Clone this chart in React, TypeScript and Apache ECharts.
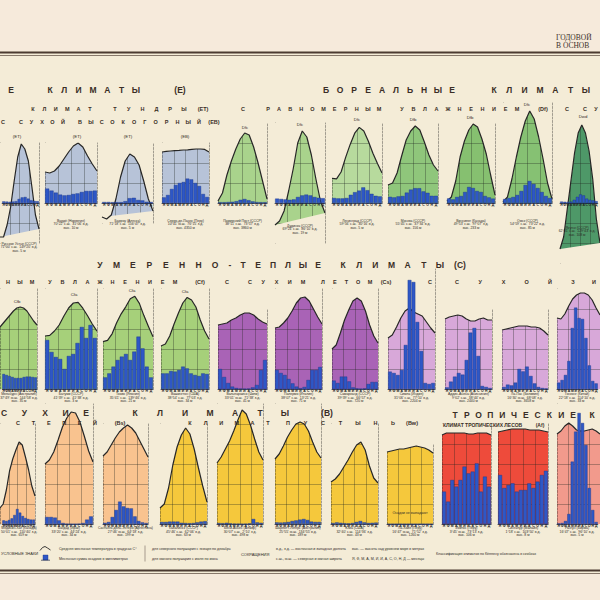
import React, { useEffect, useRef } from "react";
import * as echarts from "echarts";

const MONTHS = ["Я", "Ф", "М", "А", "М", "И", "И", "А", "С", "О", "Н", "Д"];

// ---------- Row 1: polar and boreal climates (°C, mm)
const T_RUSSKOYE = [-37, -37, -31, -22, -9, 3, 9.5, 7, 1, -12, -26, -33];
const P_RUSSKOYE = [8, 7, 6, 7, 9, 20, 28, 30, 22, 14, 10, 9];
const T_VARDO = [-4.5, -5, -4, -1.5, 2, 5.5, 8.5, 10, 8, 3.5, -0.5, -4];
const P_VARDO = [72, 62, 52, 42, 38, 40, 45, 48, 55, 60, 60, 62];
const T_BARROW = [-27, -28, -26, -18, -7, 1, 4.5, 3, -1, -9, -18, -24];
const P_BARROW = [5, 5, 4, 4, 4, 9, 24, 26, 15, 13, 6, 5];
const T_CERRO = [5.5, 5.8, 6, 6.2, 6.3, 6.5, 6.6, 6.8, 7, 7, 6.8, 5.5];
const P_CERRO = [28, 40, 70, 90, 100, 105, 122, 118, 100, 85, 45, 30];
const T_PAMIR = [-19, -15, -6, 1, 7, 12, 15, 14, 8, 0, -9, -18];
const P_PAMIR = [4, 4, 5, 6, 9, 16, 20, 14, 8, 5, 4, 4];
const T_DUDINKA = [-31, -29, -24, -14, -3, 10, 16, 13, 4, -8, -19, -25];
const P_DUDINKA = [22, 20, 18, 16, 18, 30, 38, 42, 38, 30, 26, 24];
const T_LENINGRAD = [-7.7, -7.9, -4.5, 2.8, 9.3, 14.9, 17.8, 16, 10.9, 4.9, -0.3, -5];
const P_LENINGRAD = [25, 23, 23, 25, 41, 54, 62, 78, 64, 46, 36, 33];
const T_MOSCOW = [-11, -10, -5, 3.5, 11.5, 16, 18.5, 16.5, 10.5, 4, -1, -4];
const P_MOSCOW = [31, 28, 33, 35, 52, 67, 74, 74, 58, 51, 36, 36];
const T_WINNIPEG = [-19, -17, -9, 3, 11, 16.5, 19.5, 18, 12, 4.5, -6, -16];
const P_WINNIPEG = [23, 18, 30, 35, 55, 80, 75, 60, 55, 35, 28, 22];
const T_OMSK = [-19.5, -17, -8, 3, 13, 21, 26, 22, 13, 2, -10, -18];
const P_OMSK = [20, 25, 30, 40, 60, 90, 110, 95, 75, 55, 35, 25];
const T_YAKUTSK = [-43, -37, -23, -9, 5, 15, 19, 15, 6, -8, -28, -40];
const P_YAKUTSK = [7, 6, 5, 7, 16, 31, 43, 38, 22, 16, 13, 9];

// ---------- Row 2: temperate warm climates
const T_MELBOURNE = [11, 13, 15, 17, 19, 20.5, 21, 20.5, 19, 16.5, 14, 12];
const P_MELBOURNE = [75, 70, 65, 60, 55, 55, 55, 60, 62, 62, 60, 58];
const T_BATUMI = [6.5, 6.8, 9, 12, 16.5, 20.5, 23, 23.3, 20.4, 16.6, 12.5, 8.9];
const P_BATUMI = [245, 185, 160, 150, 100, 165, 175, 230, 310, 255, 320, 255];
const T_TOKYO = [3.7, 4.3, 7.6, 13.1, 17.6, 21.1, 25.1, 26.4, 22.8, 16.7, 11.3, 6.1];
const P_TOKYO = [58, 78, 112, 145, 162, 175, 145, 187, 262, 203, 112, 58];
const T_WASHINGTON = [1.5, 2.5, 6.5, 12.5, 18, 23, 25.8, 24.5, 21, 14.5, 9, 5];
const P_WASHINGTON = [78, 78, 90, 87, 95, 112, 103, 78, 70, 65, 78, 75];
const T_VALPARAISO = [12, 12.5, 13, 14.5, 15.5, 17, 18, 18, 17, 15, 13.5, 12.5];
const P_VALPARAISO = [100, 60, 30, 12, 5, 2, 1, 2, 8, 20, 95, 145];
const T_PALERMO = [10.5, 11, 13, 15.5, 19, 23, 25.5, 26, 24, 20, 16, 12.5];
const P_PALERMO = [95, 80, 70, 50, 28, 12, 4, 10, 45, 95, 95, 110];
const T_SAMARKAND = [0, 2, 8, 14.5, 19.5, 24, 25.5, 24, 19, 12, 6.5, 3];
const P_SAMARKAND = [42, 30, 62, 62, 38, 8, 3, 1, 3, 25, 35, 35];
const T_SIMLA = [5.5, 7, 11, 15.5, 19, 20.5, 18.5, 17.5, 16.5, 13.5, 10.5, 8];
const P_SIMLA = [87, 80, 70, 95, 220, 545, 535, 335, 190, 30, 25, 30];
const T_ADDIS = [15, 16, 16.5, 17, 16.5, 15, 14, 14, 15, 15.5, 14.5, 14.5];
const P_ADDIS = [8, 37, 62, 80, 72, 145, 282, 305, 165, 15, 10, 5];
const T_LAPAZ = [9.5, 10, 10.5, 11, 11.5, 11.5, 11.5, 11, 11, 10.5, 9, 7];
const P_LAPAZ = [10, 22, 18, 32, 100, 88, 112, 65, 28, 10, 5, 3];
const T_HONGKONG = [15.5, 15, 17.5, 21.5, 25, 27, 28, 28, 27, 24.5, 20.5, 17];
const P_HONGKONG = [32, 45, 70, 140, 305, 407, 355, 350, 255, 118, 40, 28];

// ---------- Row 3: dry and tropical climates
const T_MEDICINEHAT = [-12, -10, -3, 6.5, 12.5, 17, 21, 19.5, 13.5, 7, -1, -6];
const P_MEDICINEHAT = [18, 15, 20, 28, 45, 75, 57, 40, 30, 25, 22, 22];
const T_BAGHDAD = [10, 12, 16, 22, 28.5, 33, 36, 35.5, 31, 24, 16.5, 11];
const P_BAGHDAD = [35, 35, 32, 18, 5, 1, 0, 0, 1, 5, 22, 38];
const T_SANTIAGO = [14, 16, 19.5, 23, 26, 28, 29.5, 28, 25.5, 21.5, 17.5, 13.5];
const P_SANTIAGO = [6, 10, 35, 70, 112, 88, 80, 78, 38, 15, 8, 5];
const T_KAZALINSK = [-12, -10, -2, 9.5, 18.5, 24.5, 28, 25, 17.5, 8, -1, -9];
const P_KAZALINSK = [10, 10, 12, 12, 12, 6, 5, 4, 5, 8, 12, 14];
const T_BENIABBES = [10.5, 13.5, 17.5, 21.5, 26.5, 32, 37, 35, 29.5, 22.5, 16, 12];
const P_BENIABBES = [5, 4, 6, 3, 2, 1, 0, 1, 3, 25, 8, 6];
const T_CHARLOTTE = [12.5, 15, 19, 23.5, 27, 30, 31, 30, 26.5, 21, 16, 13];
const P_CHARLOTTE = [8, 7, 8, 10, 15, 18, 22, 25, 20, 12, 10, 10];
const T_YUMA = [1, 2.5, 5, 8.5, 12, 16, 19.5, 21, 17, 9, 3, 0.5];
const P_YUMA = [5, 8, 6, 4, 3, 5, 10, 15, 8, 5, 6, 7];
const T_LAJOYA = [16, 16.5, 17, 17.5, 17.5, 18, 18.5, 19, 18.5, 18, 17, 15.5];
const P_LAJOYA = [0, 0, 0, 0, 0, 0, 0, 0, 0, 0, 0, 0];
const T_IQUITOS = [24.5, 25.5, 25.5, 25.5, 25.5, 25.5, 25, 25, 25.5, 25.5, 25.5, 24.5];
const P_IQUITOS = [162, 112, 220, 187, 220, 287, 253, 262, 303, 162, 237, 187];
const T_SINGAPORE = [26, 26.5, 27, 27.5, 27.5, 27.5, 27.5, 27, 27, 27, 26.5, 26];
const P_SINGAPORE = [245, 180, 195, 203, 162, 170, 170, 203, 180, 212, 245, 266];
const T_RANGOON = [25, 26.5, 29, 30.5, 29, 27, 26.5, 26.5, 27, 27.5, 26.5, 25];
const P_RANGOON = [3, 5, 15, 50, 312, 462, 555, 505, 395, 180, 70, 10];

const STATIONS = [
  { name: "Русское Устье (СССР)", pos: "71°00' с.ш.  149°20' в.д.", alt: "выс. 5 м", t: T_RUSSKOYE, p: P_RUSSKOYE },
  { name: "Вардё (Норвегия)", pos: "70°22' с.ш.  31°06' в.д.", alt: "выс. 10 м", t: T_VARDO, p: P_VARDO },
  { name: "Барроу (Аляска)", pos: "71°18' с.ш.  156°47' з.д.", alt: "выс. 5 м", t: T_BARROW, p: P_BARROW },
  { name: "Серро-де-Паско (Перу)", pos: "10°41' ю.ш.  76°15' з.д.", alt: "выс. 4350 м", t: T_CERRO, p: P_CERRO },
  { name: "Памирский Пост (СССР)", pos: "38°11' с.ш.  73°57' в.д.", alt: "выс. 3860 м", t: T_PAMIR, p: P_PAMIR },
  { name: "Дудинка (СССР)", pos: "69°24' с.ш.  86°10' в.д.", alt: "выс. 19 м", t: T_DUDINKA, p: P_DUDINKA },
  { name: "Ленинград (СССР)", pos: "59°56' с.ш.  30°16' в.д.", alt: "выс. 5 м", t: T_LENINGRAD, p: P_LENINGRAD },
  { name: "Москва (СССР)", pos: "55°45' с.ш.  37°34' в.д.", alt: "выс. 156 м", t: T_MOSCOW, p: P_MOSCOW },
  { name: "Виннипег (Канада)", pos: "49°53' с.ш.  97°07' з.д.", alt: "выс. 233 м", t: T_WINNIPEG, p: P_WINNIPEG },
  { name: "Омск (СССР)", pos: "54°59' с.ш.  73°22' в.д.", alt: "выс. 85 м", t: T_OMSK, p: P_OMSK },
  { name: "Якутск (СССР)", pos: "62°01' с.ш.  129°43' в.д.", alt: "выс. 108 м", t: T_YAKUTSK, p: P_YAKUTSK },

  { name: "Мельбурн (Австралия)", pos: "37°49' ю.ш.  144°58' в.д.", alt: "выс. 35 м", t: T_MELBOURNE, p: P_MELBOURNE },
  { name: "Батуми (СССР)", pos: "41°39' с.ш.  41°38' в.д.", alt: "выс. 3 м", t: T_BATUMI, p: P_BATUMI },
  { name: "Токио (Япония)", pos: "35°41' с.ш.  139°46' в.д.", alt: "выс. 21 м", t: T_TOKYO, p: P_TOKYO },
  { name: "Вашингтон (США)", pos: "38°54' с.ш.  77°03' з.д.", alt: "выс. 34 м", t: T_WASHINGTON, p: P_WASHINGTON },
  { name: "Вальпараисо (Чили)", pos: "33°01' ю.ш.  71°38' з.д.", alt: "выс. 41 м", t: T_VALPARAISO, p: P_VALPARAISO },
  { name: "Палермо (Италия)", pos: "38°07' с.ш.  13°21' в.д.", alt: "выс. 71 м", t: T_PALERMO, p: P_PALERMO },
  { name: "Самарканд (СССР)", pos: "39°39' с.ш.  66°57' в.д.", alt: "выс. 720 м", t: T_SAMARKAND, p: P_SAMARKAND },
  { name: "Симла (Индия)", pos: "31°06' с.ш.  77°10' в.д.", alt: "выс. 2204 м", t: T_SIMLA, p: P_SIMLA },
  { name: "Аддис-Абеба (Абиссиния)", pos: "9°02' с.ш.  38°44' в.д.", alt: "выс. 2440 м", t: T_ADDIS, p: P_ADDIS },
  { name: "Ла-Пас (Боливия)", pos: "16°30' ю.ш.  68°08' з.д.", alt: "выс. 3658 м", t: T_LAPAZ, p: P_LAPAZ },
  { name: "Гонконг (Китай)", pos: "22°18' с.ш.  114°10' в.д.", alt: "выс. 33 м", t: T_HONGKONG, p: P_HONGKONG },

  { name: "Медисин-Хат (Канада)", pos: "50°01' с.ш.  110°40' з.д.", alt: "выс. 659 м", t: T_MEDICINEHAT, p: P_MEDICINEHAT },
  { name: "Багдад (Ирак)", pos: "33°20' с.ш.  44°24' в.д.", alt: "выс. 34 м", t: T_BAGHDAD, p: P_BAGHDAD },
  { name: "Сантьяго-дель-Эстеро (Аргентина)", pos: "27°46' ю.ш.  64°18' з.д.", alt: "выс. 199 м", t: T_SANTIAGO, p: P_SANTIAGO },
  { name: "Казалинск (СССР)", pos: "45°46' с.ш.  62°06' в.д.", alt: "выс. 63 м", t: T_KAZALINSK, p: P_KAZALINSK },
  { name: "Бени-Аббес (Алжир)", pos: "30°07' с.ш.  2°10' з.д.", alt: "выс. 498 м", t: T_BENIABBES, p: P_BENIABBES },
  { name: "Шарлотт-Уотерс (Австралия)", pos: "25°55' ю.ш.  134°55' в.д.", alt: "выс. 189 м", t: T_CHARLOTTE, p: P_CHARLOTTE },
  { name: "Юма (США)", pos: "32°40' с.ш.  114°36' з.д.", alt: "выс. 43 м", t: T_YUMA, p: P_YUMA },
  { name: "Ла-Хойя (Перу)", pos: "16°47' ю.ш.  71°52' з.д.", alt: "выс. 1260 м", t: T_LAJOYA, p: P_LAJOYA },
  { name: "Икитос (Перу)", pos: "3°45' ю.ш.  73°13' з.д.", alt: "выс. 106 м", t: T_IQUITOS, p: P_IQUITOS },
  { name: "Сингапур (Малайя)", pos: "1°18' с.ш.  103°50' в.д.", alt: "выс. 8 м", t: T_SINGAPORE, p: P_SINGAPORE },
  { name: "Рангун (Бирма)", pos: "16°47' с.ш.  96°10' в.д.", alt: "выс. 5 м", t: T_RANGOON, p: P_RANGOON },
];

// ---------- layout & styles (kept apart from the data)
const ROW_BASE = [203, 389, 524];
const LABEL_Y = [219, 392.5, 526.5];
const PX_PER_DEG = 2;
const MM_PER_DEG = 10;
const FRAMES: { row: number; x: number; w: number; lx?: number; ly?: number }[] = [
  { row: 0, x: -11, w: 50, lx: 19, ly: 242 },
  { row: 0, x: 45, w: 52 },
  { row: 0, x: 102, w: 51 },
  { row: 0, x: 162, w: 47 },
  { row: 0, x: 218, w: 49 },
  { row: 0, x: 275, w: 50, lx: 300, ly: 224 },
  { row: 0, x: 332, w: 50 },
  { row: 0, x: 388, w: 50 },
  { row: 0, x: 447, w: 48 },
  { row: 0, x: 503, w: 49 },
  { row: 0, x: 560, w: 48, lx: 577, ly: 226 },
  { row: 1, x: -10, w: 47, lx: 19 },
  { row: 1, x: 45, w: 52 },
  { row: 1, x: 103, w: 50 },
  { row: 1, x: 161, w: 48 },
  { row: 1, x: 218, w: 49 },
  { row: 1, x: 275, w: 47 },
  { row: 1, x: 332, w: 46 },
  { row: 1, x: 388, w: 47 },
  { row: 1, x: 445, w: 47 },
  { row: 1, x: 502, w: 46 },
  { row: 1, x: 557, w: 48, lx: 577 },
  { row: 2, x: -12, w: 47, lx: 19 },
  { row: 2, x: 45, w: 48 },
  { row: 2, x: 103, w: 45 },
  { row: 2, x: 160, w: 47 },
  { row: 2, x: 217, w: 46 },
  { row: 2, x: 275, w: 46 },
  { row: 2, x: 331, w: 47 },
  { row: 2, x: 387, w: 46 },
  { row: 2, x: 442, w: 49 },
  { row: 2, x: 498, w: 50 },
  { row: 2, x: 557, w: 48, lx: 577 },
];
const ET = "#b7c3d8";
const CF = "#a6d07a";
const CS = "#a963b6";
const CW = "#d8a8d9";
const BS = "#f9c38f";
const BW = "#f5c83c";
const FILLS = [
  ET, ET, ET, ET, "#a9d38c", "#a9d38c", "#b7da9d", "#8fc67b", "#86c070", "#86c173", "#4e9868",
  CF, CF, CF, CF, CS, CS, CS, CW, CW, CW, CW,
  BS, BS, BS, BW, BW, BW, BW, BW, "#ee4b3b", "#ee4b3b", "#f29a8c",
];
const CODE_LABELS: [string, number, number][] = [
  ["(ET)", 17, 136], ["(ET)", 77, 136], ["(ET)", 128, 136], ["(EB)", 185, 136],
  ["Dfc", 245, 127], ["Dfc", 300, 124], ["Dfc", 357, 119], ["Dfb", 413, 119],
  ["Dfb", 470, 117], ["Dfc", 527, 104], ["Dwd", 583, 116],
  ["Cfb", 17, 301], ["Cfa", 74, 294], ["Cfa", 132, 290], ["Cfa", 185, 291],
];
// [word, x of first letter, x of last letter, y, size]
const HEADERS: [string, number, number, number, number][] = [
  ["Е", 11, 11, 90, 8.5], ["КЛИМАТЫ", 50, 136, 90, 8.5], ["(E)", 180, 180, 90, 8.5],
  ["БОРЕАЛЬНЫЕ", 326, 452, 90, 8.5], ["КЛИМАТЫ", 494, 586, 90, 8.5],
  ["КЛИМАТ", 33, 90, 109, 5.5], ["ТУНДРЫ", 115, 184, 109, 5.5], ["(ET)", 203, 203, 109, 5.5],
  ["С", 3, 3, 122, 5.5], ["СУХОЙ", 21, 63, 122, 5.5], ["ВЫСОКОГОРНЫЙ", 80, 199, 122, 5.5], ["(EB)", 214, 214, 122, 5.5],
  ["С", 243, 243, 109, 5.5], ["РАВНОМЕРНЫМ", 268, 379, 109, 5.5], ["УВЛАЖНЕНИЕМ", 402, 517, 109, 5.5], ["(Df)", 543, 543, 109, 5.5],
  ["С", 567, 567, 109, 5.5], ["СУ", 585, 596, 109, 5.5],
  ["УМЕРЕННО", 100, 215, 265, 8.5], ["-", 230, 230, 265, 8.5], ["ТЕПЛЫЕ", 243, 318, 265, 8.5],
  ["КЛИМАТЫ", 343, 440, 265, 8.5], ["(C)", 460, 460, 265, 8.5],
  ["НЫМ", 8, 32, 282, 5.5], ["УВЛАЖНЕНИЕМ", 50, 175, 282, 5.5], ["(Cf)", 200, 200, 282, 5.5],
  ["С", 227, 227, 282, 5.5], ["СУХИМ", 250, 303, 282, 5.5], ["ЛЕТОМ", 323, 370, 282, 5.5], ["(Cs)", 386, 386, 282, 5.5],
  ["С", 430, 430, 282, 5.5], ["СУХОЙ", 457, 550, 282, 5.5], ["ЗИ", 573, 594, 282, 5.5],
  ["СУХИЕ", 4, 86, 413, 8.5], ["КЛИМАТЫ", 135, 285, 413, 8.5], ["(B)", 327, 327, 413, 8.5],
  ["ТРОПИЧЕСКИЕ", 455, 573, 415, 8.5], ["К", 592, 592, 415, 8.5],
  ["СТЕПЕЙ", 18, 95, 423, 5.5], ["(Bs)", 120, 120, 423, 5.5],
  ["КЛИМАТ", 190, 268, 423, 5.5], ["ПУСТЫНЬ", 288, 393, 423, 5.5], ["(Bw)", 412, 412, 423, 5.5],
];

const BG = "#f4ecd7";
const BAND = "#f6eadb";
const INK = "#33291f";
const GRID_C = "rgba(30,38,30,0.55)";
const EDGE_C = "rgba(30,30,30,0.65)";
const BAR_C = "#2e57c6";
const BAR_B = "#183586";
const CURVE_C = "#262626";
const SANS = "'Liberation Sans', 'DejaVu Sans', sans-serif";
const SERIF = "'Liberation Serif', 'DejaVu Serif', serif";

const edgeAxis = (gridIndex: number, position: string, min: number, max: number, extra: any = {}) => ({
  type: "value", gridIndex, position, z: 2, min, max,
  axisLine: { show: true, onZero: false, lineStyle: { type: [2, 1.5], color: EDGE_C, width: 0.6 } },
  axisTick: { show: false }, axisLabel: { show: false }, splitLine: { show: false },
  ...extra,
});

function buildOption() {
  const grid: any[] = [];
  const xAxis: any[] = [];
  const yAxis: any[] = [];
  const series: any[] = [];

  STATIONS.forEach((s, i) => {
    const f = FRAMES[i];
    const base = ROW_BASE[f.row];
    const cold = s.t[0] < -20 || s.t[11] < -20;
    const tLo = cold ? Math.floor(Math.min(...s.t) / 10) * 10 : -20;
    const tHi = Math.ceil(Math.max(Math.max(...s.t), Math.max(...s.p) / MM_PER_DEG - 20) / 10) * 10;
    const top = base - (tHi + 20) * PX_PER_DEG;

    // temperature grid (may extend below the zero-precipitation baseline)
    const gT = 2 * i;
    grid.push({ left: f.x, top, width: f.w, height: (tHi - tLo) * PX_PER_DEG, show: false });
    // precipitation grid, its bottom is the baseline
    const gP = 2 * i + 1;
    grid.push({ left: f.x, top, width: f.w, height: (tHi + 20) * PX_PER_DEG, show: false });

    const xT = xAxis.length;
    xAxis.push({
      type: "category", gridIndex: gT, data: MONTHS, boundaryGap: false, show: false,
      position: "bottom", axisLine: { show: false, onZero: false },
    });
    xAxis.push({
      type: "category", gridIndex: gT, data: MONTHS, boundaryGap: true, position: "bottom", z: 2,
      axisLine: { show: false, onZero: false }, axisTick: { show: false }, axisLabel: { show: false },
      splitLine: { show: true, interval: 2, showMinLine: false, showMaxLine: false, lineStyle: { color: GRID_C, width: 0.6 } },
    });
    const xP = xAxis.length;
    xAxis.push({
      type: "category", gridIndex: gP, data: MONTHS, boundaryGap: true, position: "bottom", z: 5,
      axisLine: { show: true, onZero: false, lineStyle: { color: "#1e2a50", width: 0.8 } },
      axisTick: { show: false },
      axisLabel: { show: true, interval: 0, fontSize: 3.4, margin: 0.8, color: "#222", fontFamily: SANS, fontWeight: "bold" },
      splitLine: { show: false },
    });

    const yT = yAxis.length;
    yAxis.push(edgeAxis(gT, "left", tLo, tHi, {
      interval: 10,
      splitLine: { show: true, showMinLine: false, showMaxLine: false, lineStyle: { color: GRID_C, width: 0.6 } },
    }));
    yAxis.push(edgeAxis(gT, "right", tLo, tHi));
    const yP = yAxis.length;
    yAxis.push({
      type: "value", gridIndex: gP, position: "left", min: 0, max: (tHi + 20) * MM_PER_DEG, show: false,
    });

    series.push({
      type: "line", xAxisIndex: xT, yAxisIndex: yT, data: s.t, symbol: "none", silent: true, z: 1,
      lineStyle: { width: 0 }, areaStyle: { color: FILLS[i], opacity: 1, origin: "start" },
    });
    if (cold) {
      series.push({
        type: "line", xAxisIndex: xT, yAxisIndex: yT, symbol: "none", silent: true, z: 3,
        data: s.t.map((v, k) => (k === 0 || k === 11 ? v : null)), connectNulls: true,
        lineStyle: { width: 0 }, areaStyle: { color: BG, opacity: 1, origin: "start" },
      });
    }
    series.push({
      type: "line", xAxisIndex: xT, yAxisIndex: yT, data: s.t, symbol: "none", silent: true, z: 4,
      lineStyle: { color: CURVE_C, width: 1.2 }, areaStyle: { color: BG, opacity: 1, origin: "end" },
    });
    series.push({
      type: "bar", xAxisIndex: xP, yAxisIndex: yP, data: s.p, silent: true, z: 6,
      barCategoryGap: "6%", itemStyle: { color: BAR_C, borderColor: BAR_B, borderWidth: 0.4 },
    });
  });

  const el: any[] = [];
  const txt = (text: string, x: number, y: number, size: number, o: any = {}) =>
    el.push({
      type: "text", x, y, z: 100, silent: true,
      style: {
        text, fontSize: size, fontFamily: o.family || SANS, fontWeight: o.weight || "normal",
        fill: o.fill || INK, align: o.align || "left", textAlign: o.align || "left",
        verticalAlign: o.va || "middle", textVerticalAlign: o.va || "middle",
        lineHeight: o.lh,
      },
    });

  el.push({ type: "rect", z: 0, silent: true, shape: { x: 0, y: 0, width: 600, height: 51 }, style: { fill: BAND } });
  el.push({ type: "rect", z: 0, silent: true, shape: { x: 0, y: 574, width: 600, height: 26 }, style: { fill: BAND } });
  el.push({ type: "line", z: 100, silent: true, shape: { x1: 0, y1: 52.5, x2: 600, y2: 52.5 }, style: { stroke: "#4b3a31", lineWidth: 2.2 } });
  el.push({ type: "line", z: 100, silent: true, shape: { x1: 0, y1: 55.5, x2: 600, y2: 55.5 }, style: { stroke: "#6b5a4e", lineWidth: 0.8 } });
  el.push({ type: "line", z: 100, silent: true, shape: { x1: 0, y1: 570.5, x2: 600, y2: 570.5 }, style: { stroke: "#4b3a31", lineWidth: 2.2 } });
  el.push({ type: "line", z: 100, silent: true, shape: { x1: 0, y1: 573.5, x2: 600, y2: 573.5 }, style: { stroke: "#6b5a4e", lineWidth: 0.8 } });

  txt("ГОДОВОЙ", 556, 37, 7.5, { family: SERIF, fill: "#3d3028" });
  txt("В ОСНОВ", 556, 45, 7.5, { family: SERIF, fill: "#3d3028" });

  HEADERS.forEach(([word, x0, x1, y, size]) => {
    const chars = Array.from(word);
    if (chars.length === 1 || x0 === x1) {
      txt(word, x0, y, size, { align: "center", weight: "bold", fill: "#3a2e26" });
    } else {
      const step = (x1 - x0) / (chars.length - 1);
      chars.forEach((c, k) => txt(c, x0 + k * step, y, size, { align: "center", weight: "bold", fill: "#3a2e26" }));
    }
  });
  txt("КЛИМАТ ТРОПИЧЕСКИХ ЛЕСОВ", 443, 425, 5, { weight: "bold", fill: "#3a2e26" });
  txt("(Af)", 540, 425, 5, { align: "center", weight: "bold", fill: "#3a2e26" });

  CODE_LABELS.forEach(([t, x, y]) => txt(t, x, y, 4.3, { align: "center", fill: "#2e2a24" }));

  STATIONS.forEach((s, i) => {
    const f = FRAMES[i];
    const lx = f.lx ?? f.x + f.w / 2;
    const ly = f.ly ?? LABEL_Y[f.row];
    txt(`${s.name}\n${s.pos}\n${s.alt}`, lx, ly, 3.4, { align: "center", va: "top", lh: 3.4, fill: "#2d2a26" });
  });
  txt("Осадки не выпадают", 410, 513, 3.6, { align: "center", fill: "#2d2a26" });

  // legend
  txt("УСЛОВНЫЕ ЗНАКИ", 1, 553.5, 4, { fill: "#2d2a26" });
  el.push({
    type: "polyline", z: 100, silent: true,
    shape: { points: [[40, 550.5], [42.5, 547.5], [45, 546.5], [47.5, 548], [50.5, 550]] },
    style: { stroke: CURVE_C, lineWidth: 0.9, fill: "none" },
  });
  el.push({ type: "rect", z: 100, silent: true, shape: { x: 43, y: 555, width: 5, height: 5 }, style: { fill: BAR_C, stroke: BAR_B, lineWidth: 0.4 } });
  el.push({ type: "line", z: 100, silent: true, shape: { x1: 41, y1: 560.2, x2: 50, y2: 560.2 }, style: { stroke: "#1e2a50", lineWidth: 0.7 } });
  txt("Средняя месячная температура в градусах С°", 59, 549, 3.6, { fill: "#2d2a26" });
  txt("Месячная сумма осадков в миллиметрах", 59, 558.5, 3.6, { fill: "#2d2a26" });
  el.push({ type: "line", z: 100, silent: true, shape: { x1: 145, y1: 545.5, x2: 145, y2: 561.5 }, style: { stroke: "#5a4a40", lineWidth: 0.5 } });
  txt("для северного полушария с января по декабрь", 152, 549, 3.6, { fill: "#2d2a26" });
  txt("для южного полушария с июля по июнь", 152, 558.5, 3.6, { fill: "#2d2a26" });
  txt("СОКРАЩЕНИЯ", 241, 554, 4, { fill: "#2d2a26" });
  txt("в.д., з.д. — восточная и западная долгота", 276, 549, 3.6, { fill: "#2d2a26" });
  txt("с.ш., ю.ш. — северная и южная широта", 276, 558.5, 3.6, { fill: "#2d2a26" });
  txt("выс. — высота над уровнем моря в метрах", 352, 549, 3.6, { fill: "#2d2a26" });
  txt("Я, Ф, М, А, М, И, И, А, С, О, Н, Д — месяцы", 352, 558.5, 3.6, { fill: "#2d2a26" });
  txt("Классификация климатов по Кёппену обозначена в скобках", 436, 554, 3.6, { fill: "#2d2a26" });

  return {
    animation: false,
    backgroundColor: BG,
    grid,
    xAxis,
    yAxis,
    series,
    graphic: { elements: el },
  };
}

export default function App() {
  const ref = useRef<HTMLDivElement>(null);
  useEffect(() => {
    if (!ref.current) return;
    const chart = echarts.init(ref.current, undefined, { renderer: "svg" });
    chart.setOption(buildOption() as any);
    return () => chart.dispose();
  }, []);
  return <div ref={ref} style={{ position: "absolute", left: 0, top: 0, width: 600, height: 600 }} />;
}
